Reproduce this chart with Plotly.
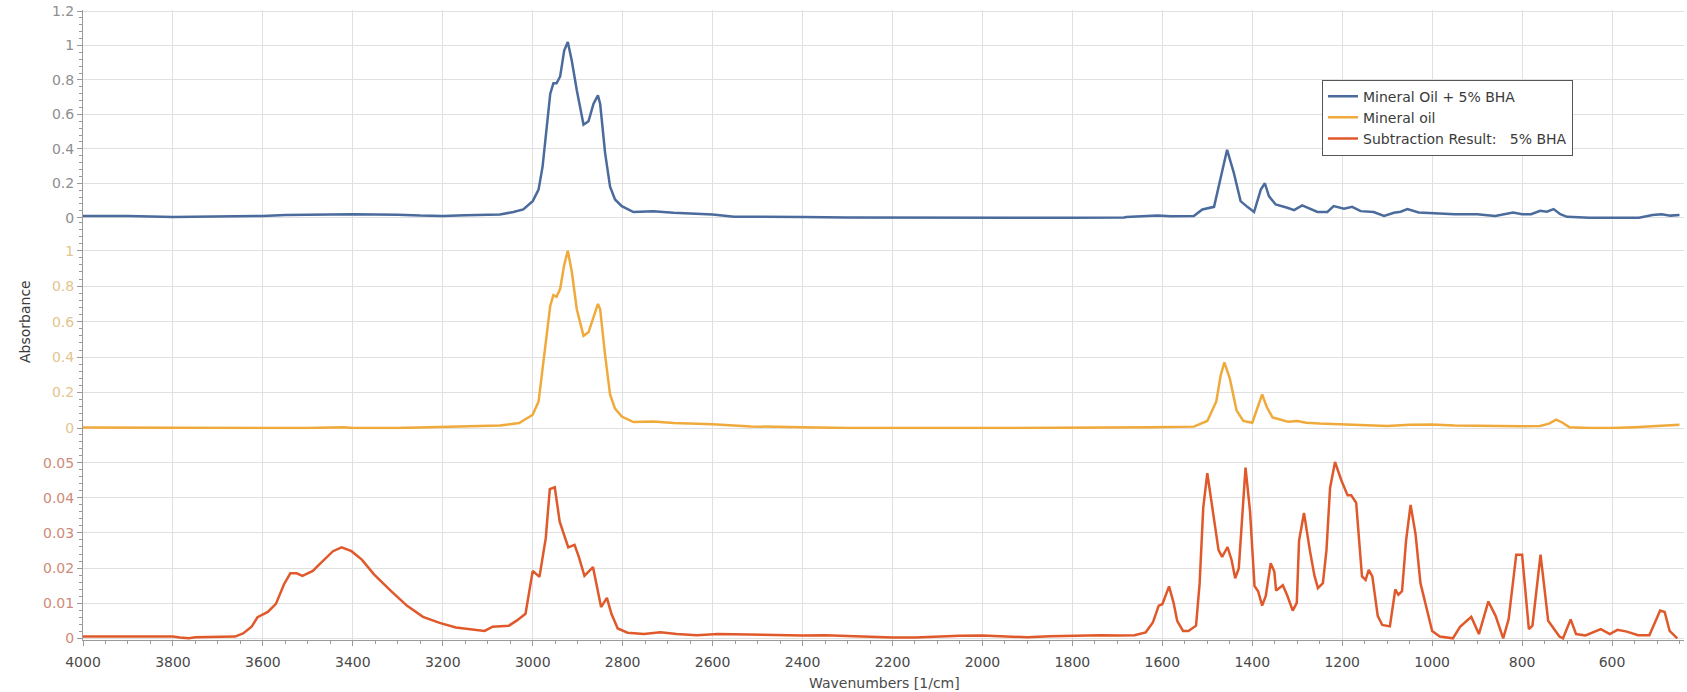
import plotly.graph_objects as go
from plotly.subplots import make_subplots

# ---- data ----
wn_mix = [4000, 3900, 3800, 3700, 3600, 3550, 3500, 3450, 3400, 3350, 3300, 3250, 3200, 3150, 3100,
          3073, 3043, 3021, 3000, 2987, 2978, 2969, 2961, 2954, 2947, 2939, 2930, 2922, 2913, 2902,
          2887, 2876, 2865, 2855, 2850, 2839, 2828, 2817, 2802, 2776, 2732, 2687, 2643, 2600, 2552,
          2515, 2400, 2300, 2181, 2000, 1800, 1685, 1680, 1611, 1581, 1530, 1511, 1485, 1470, 1456,
          1441, 1426, 1411, 1396, 1381, 1372, 1363, 1348, 1322, 1307, 1289, 1255, 1233, 1219, 1196,
          1178, 1159, 1130, 1107, 1085, 1070, 1055, 1030, 1000, 950, 900, 860, 820, 800, 780, 760,
          745, 730, 715, 700, 650, 600, 540, 510, 490, 470, 450]
abs_mix = [0.010, 0.010, 0.004, 0.005, 0.010, 0.015, 0.015, 0.018, 0.020, 0.020, 0.017, 0.012, 0.010, 0.014, 0.019,
           0.019, 0.033, 0.048, 0.096, 0.163, 0.298, 0.51, 0.72, 0.78, 0.78, 0.82, 0.97, 1.02, 0.91, 0.74,
           0.54, 0.56, 0.66, 0.71, 0.66, 0.375, 0.18, 0.106, 0.067, 0.033, 0.038, 0.029, 0.025, 0.019, 0.006,
           0.006, 0.004, 0.001, 0.000, 0.000, 0.000, 0.001, 0.004, 0.013, 0.008, 0.010, 0.048, 0.063, 0.24, 0.394,
           0.26, 0.096, 0.063, 0.033, 0.163, 0.20, 0.125, 0.077, 0.058, 0.044, 0.071, 0.033, 0.033, 0.067, 0.052,
           0.063, 0.038, 0.033, 0.010, 0.029, 0.035, 0.050, 0.030, 0.025, 0.020, 0.020, 0.010, 0.030, 0.020, 0.020, 0.040,
           0.035, 0.050, 0.020, 0.005, 0.000, 0.000, 0.000, 0.015, 0.020, 0.012, 0.015]

wn_oil = [4000, 3900, 3800, 3700, 3600, 3500, 3420, 3400, 3300, 3250, 3200, 3100, 3073, 3030, 3000,
          2987, 2978, 2969, 2961, 2954, 2947, 2939, 2930, 2922, 2913, 2902, 2887, 2876, 2865, 2855,
          2850, 2839, 2828, 2817, 2802, 2776, 2732, 2687, 2600, 2515, 2400, 2300, 2000, 1700, 1620,
          1530, 1500, 1480, 1470, 1462, 1450, 1435, 1420, 1400, 1390, 1378, 1368, 1355, 1340, 1320,
          1300, 1280, 1250, 1200, 1150, 1100, 1050, 1000, 950, 900, 850, 800, 760, 740, 724,
          710, 695, 650, 600, 550, 500, 470, 450]
abs_oil = [0.003, 0.002, 0.000, 0.000, 0.000, 0.000, 0.004, 0.000, 0.000, 0.003, 0.006, 0.010, 0.015, 0.028, 0.075,
           0.15, 0.34, 0.52, 0.69, 0.75, 0.74, 0.785, 0.92, 1.00, 0.88, 0.67, 0.52, 0.54, 0.62, 0.70,
           0.67, 0.41, 0.19, 0.11, 0.065, 0.034, 0.037, 0.028, 0.022, 0.009, 0.005, 0.000, 0.000, 0.000, 0.004,
           0.008, 0.040, 0.15, 0.30, 0.37, 0.28, 0.10, 0.04, 0.03, 0.10, 0.19, 0.12, 0.06, 0.05, 0.035,
           0.040, 0.030, 0.025, 0.020, 0.015, 0.012, 0.018, 0.020, 0.015, 0.015, 0.012, 0.010, 0.012, 0.025, 0.047,
           0.030, 0.005, 0.000, 0.000, 0.005, 0.010, 0.015, 0.018]

wn_sub = [4000, 3900, 3800, 3785, 3765, 3750, 3700, 3662, 3644, 3625, 3612, 3589, 3571, 3553, 3539,
          3525, 3512, 3489, 3471, 3444, 3425, 3403, 3380, 3353, 3316, 3280, 3244, 3207, 3171, 3135,
          3107, 3089, 3053, 3035, 3016, 3000, 2985, 2971, 2962, 2951, 2940, 2921, 2907, 2898, 2885,
          2866, 2848, 2835, 2825, 2811, 2789, 2753, 2716, 2680, 2635, 2589, 2500, 2400, 2350, 2300,
          2250, 2200, 2150, 2100, 2050, 2000, 1950, 1900, 1850, 1800, 1750, 1737, 1695, 1662, 1637,
          1621, 1608, 1600, 1585, 1575, 1567, 1554, 1542, 1525, 1517, 1509, 1500, 1488, 1475, 1467,
          1455, 1446, 1438, 1430, 1415, 1405, 1395, 1387, 1378, 1370, 1359, 1351, 1347, 1332, 1322,
          1310, 1301, 1296, 1285, 1272, 1262, 1254, 1243, 1235, 1227, 1216, 1202, 1188, 1180, 1169,
          1156, 1148, 1141, 1133, 1121, 1111, 1094, 1082, 1075, 1067, 1058, 1048, 1037, 1026, 1015,
          1000, 983, 954, 938, 913, 896, 875, 859, 842, 830, 813, 800, 785, 777, 759,
          742, 717, 709, 692, 680, 659, 625, 605, 588, 567, 542, 517, 493, 483, 472, 455]
abs_sub = [0.0005, 0.0005, 0.0005, 0.0002, 0.0000, 0.0003, 0.0005, 0.0005, 0.0014, 0.0033, 0.0060, 0.0075, 0.0098, 0.0154, 0.0185,
           0.0185, 0.0178, 0.0192, 0.0215, 0.0248, 0.0259, 0.0248, 0.0224, 0.0182, 0.0136, 0.0093, 0.0061, 0.0044, 0.0031, 0.0026,
           0.0021, 0.0033, 0.0036, 0.0051, 0.0070, 0.0192, 0.0175, 0.0285, 0.0425, 0.0430, 0.0332, 0.0259, 0.0266, 0.0234, 0.0178,
           0.0203, 0.0089, 0.0115, 0.0070, 0.0028, 0.0016, 0.0012, 0.0017, 0.0012, 0.0009, 0.0012, 0.0010, 0.0008, 0.0009, 0.0006,
           0.0003, 0.0002, 0.0002, 0.0005, 0.0007, 0.0008, 0.0005, 0.0003, 0.0006, 0.0008, 0.0009, 0.0009, 0.0008, 0.0009, 0.0017,
           0.0045, 0.0093, 0.0097, 0.0148, 0.0101, 0.0050, 0.0021, 0.0021, 0.0036, 0.0157, 0.0372, 0.0470, 0.0358, 0.0251, 0.0232,
           0.0260, 0.0223, 0.0171, 0.0199, 0.0486, 0.0362, 0.0149, 0.0134, 0.0093, 0.0121, 0.0214, 0.0190, 0.0136, 0.0151, 0.0121,
           0.0079, 0.0101, 0.0278, 0.0357, 0.0251, 0.0180, 0.0143, 0.0157, 0.0251, 0.0428, 0.0502, 0.0450, 0.0407, 0.0407, 0.0386,
           0.0176, 0.0166, 0.0195, 0.0176, 0.0064, 0.0038, 0.0034, 0.0139, 0.0124, 0.0134, 0.0278, 0.0380, 0.0297, 0.0157, 0.0101,
           0.0021, 0.0005, 0.0000, 0.0033, 0.0061, 0.0012, 0.0105, 0.0064, 0.0000, 0.0054, 0.0238, 0.0238, 0.0026, 0.0036, 0.0238,
           0.0050, 0.0005, 0.0000, 0.0054, 0.0012, 0.0008, 0.0026, 0.0012, 0.0024, 0.0019, 0.0009, 0.0009, 0.0079, 0.0075, 0.0021, 0.0000]

series_names = ["Mineral Oil + 5% BHA", "Mineral oil", "Subtraction Result:\u00a0\u00a0\u00a05% BHA"]
series_colors = ["#4a6b9c", "#f0aa3c", "#e0592b"]
tick_colors = ["#8e8e8e", "#e3c58f", "#cf8a78"]
x_ticks = list(range(600, 4001, 200))

# ---- figure ----
W, H = 1687, 692
ML, MR, MT, MB = 83, 3, 6, 52
fig = make_subplots(rows=3, cols=1, shared_xaxes=True, vertical_spacing=0)

fig.add_trace(go.Scatter(x=wn_mix, y=abs_mix, mode="lines", name=series_names[0],
                         line=dict(color=series_colors[0], width=2.5)), row=1, col=1)
fig.add_trace(go.Scatter(x=wn_oil, y=abs_oil, mode="lines", name=series_names[1],
                         line=dict(color=series_colors[1], width=2.5)), row=2, col=1)
fig.add_trace(go.Scatter(x=wn_sub, y=abs_sub, mode="lines", name=series_names[2],
                         line=dict(color=series_colors[2], width=2.5)), row=3, col=1)

font_family = "DejaVu Sans"
grid_c = "#e0e0e0"
axis_c = "#9a9a9a"

ph = H - MT - MB
def py(px):
    return (H - MB - px) / ph

domains = [[py(217), 1.0], [py(428), py(217)], [0.0, py(428)]]
yranges = [[-0.0115, 1.206], [-0.0073, 1.175], [-0.00048, 0.0595]]
ydticks = [0.2, 0.2, 0.01]
yminor = [0.04, 0.04, 0.002]

for i in range(3):
    xa = "xaxis" if i == 0 else f"xaxis{i+1}"
    ya = "yaxis" if i == 0 else f"yaxis{i+1}"
    bottom = (i == 2)
    fig.layout[xa].update(
        range=[4000, 440], tickvals=x_ticks, showgrid=True, gridcolor=grid_c, gridwidth=1,
        zeroline=False, showline=bottom, linecolor=axis_c, linewidth=1,
        ticks="outside" if bottom else "", ticklen=5, tickcolor=axis_c,
        showticklabels=bottom,
        tickfont=dict(family=font_family, size=14, color="#4a4a4a"),
        ticklabelstandoff=4,
        minor=dict(dtick=50, tick0=0, ticks="outside" if bottom else "", ticklen=3,
                   tickcolor=axis_c, showgrid=False),
    )
    fig.layout[ya].update(
        domain=domains[i], range=yranges[i], dtick=ydticks[i], tick0=0,
        showgrid=True, gridcolor=grid_c, gridwidth=1, zeroline=False,
        showline=True, linecolor=axis_c, linewidth=1,
        ticks="outside", ticklen=5, tickcolor=axis_c,
        ticklabeloverflow="allow",
        tickfont=dict(family=font_family, size=14, color=tick_colors[i]),
        minor=dict(dtick=yminor[i], tick0=0, ticks="outside", ticklen=3,
                   tickcolor=axis_c, showgrid=False),
    )

# Legend shadow
lx0, lx1, ly0, ly1 = 1322, 1559, 76, 147
def pxp(x):
    return (x - ML) / (W - ML - MR)
fig.add_shape(type="rect", xref="paper", yref="paper",
              x0=pxp(lx0 + 3), x1=pxp(lx1 - 6), y0=py(ly1 + 3), y1=py(ly0 + 3),
              fillcolor="#8a8a8a", line=dict(width=0), layer="above", opacity=0.6)

fig.update_layout(
    width=W, height=H,
    margin=dict(l=ML, r=MR, t=MT, b=MB),
    paper_bgcolor="white", plot_bgcolor="white",
    font=dict(family=font_family, size=14, color="#444"),
    showlegend=True,
    legend=dict(x=pxp(lx0), y=py(ly0), xanchor="left", yanchor="top",
                bgcolor="white", bordercolor="#555", borderwidth=1,
                font=dict(family=font_family, size=14, color="#3a3a3a"),
                itemwidth=30, tracegroupgap=0),
    annotations=[
        dict(text="Absorbance", textangle=-90, xref="paper", yref="paper",
             x=pxp(25), y=py(320), xanchor="center", yanchor="middle", showarrow=False,
             font=dict(family=font_family, size=14, color="#3a3a3a")),
        dict(text="Wavenumbers [1/cm]", xref="paper", yref="paper",
             x=pxp(884), y=py(683), xanchor="center", yanchor="middle", showarrow=False,
             font=dict(family=font_family, size=14, color="#4a4a4a")),
    ],
)

fig.write_html("out.html")
